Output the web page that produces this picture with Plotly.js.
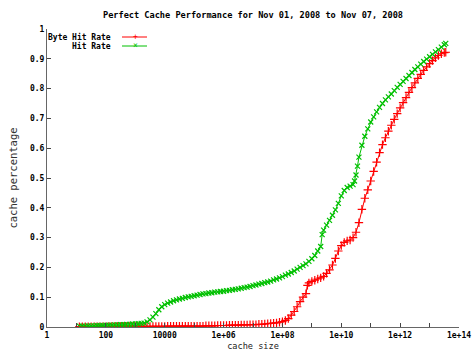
<!DOCTYPE html>
<html>
<head>
<meta charset="utf-8">
<script src="https://cdn.plot.ly/plotly-3.0.1.min.js"></script>
<style>html,body{margin:0;padding:0;background:#fff;}#chart{width:474px;height:355px;}</style>
</head>
<body>
<div id="chart"></div>
<script>
// Cache sizes as log10 exponents
const hitSizeExp = [
  1.1,1.2,1.3,1.4,1.5,1.6,1.7,1.8,1.9,2.0,
  2.1,2.2,2.3,2.4,2.5,2.6,2.7,2.8,2.9,3.0,
  3.1,3.2,3.3,3.4,3.5,3.6,3.7,3.8,3.9,4.0,
  4.1,4.2,4.3,4.4,4.5,4.6,4.7,4.8,4.9,5.0,
  5.1,5.2,5.3,5.4,5.5,5.6,5.7,5.8,5.9,6.0,
  6.1,6.2,6.3,6.4,6.5,6.6,6.7,6.8,6.9,7.0,
  7.1,7.2,7.3,7.4,7.5,7.6,7.7,7.8,7.9,8.0,
  8.1,8.2,8.3,8.4,8.5,8.6,8.7,8.8,8.9,9.0,
  9.1,9.2,9.3,9.35,9.4,9.5,9.6,9.7,9.8,9.9,
  10.0,10.1,10.2,10.3,10.4,10.45,10.5,10.55,10.6,10.7,
  10.8,10.9,11.0,11.1,11.2,11.3,11.4,11.5,11.6,11.7,
  11.8,11.9,12.0,12.1,12.2,12.3,12.4,12.5,12.6,12.7,
  12.8,12.9,13.0,13.1,13.2,13.3,13.4,13.5,13.55];
const hitRate = [
  0.003,0.003,0.003,0.004,0.004,0.004,0.005,0.005,0.005,0.006,
  0.006,0.006,0.007,0.007,0.008,0.008,0.009,0.009,0.010,0.010,
  0.011,0.012,0.013,0.017,0.024,0.033,0.045,0.058,0.068,0.075,
  0.080,0.084,0.088,0.091,0.094,0.096,0.099,0.101,0.103,0.105,
  0.107,0.109,0.111,0.112,0.114,0.115,0.117,0.118,0.119,0.120,
  0.122,0.123,0.125,0.126,0.128,0.130,0.132,0.134,0.136,0.139,
  0.141,0.144,0.146,0.149,0.151,0.154,0.158,0.161,0.165,0.169,
  0.174,0.178,0.183,0.188,0.194,0.200,0.206,0.212,0.220,0.229,
  0.240,0.255,0.270,0.310,0.325,0.342,0.358,0.375,0.393,0.415,
  0.440,0.458,0.468,0.473,0.478,0.490,0.510,0.540,0.570,0.610,
  0.640,0.665,0.688,0.705,0.722,0.737,0.750,0.762,0.772,0.782,
  0.793,0.804,0.814,0.824,0.834,0.844,0.854,0.864,0.873,0.882,
  0.891,0.899,0.907,0.915,0.923,0.931,0.939,0.947,0.952];

const byteSizeExp = [
  1.1,1.2,1.3,1.4,1.5,1.6,1.7,1.8,1.9,2.0,
  2.1,2.2,2.3,2.4,2.5,2.6,2.7,2.8,2.9,3.0,
  3.1,3.2,3.3,3.4,3.5,3.6,3.7,3.8,3.9,4.0,
  4.1,4.2,4.3,4.4,4.5,4.6,4.7,4.8,4.9,5.0,
  5.1,5.2,5.3,5.4,5.5,5.6,5.7,5.8,5.9,6.0,
  6.1,6.2,6.3,6.4,6.5,6.6,6.7,6.8,6.9,7.0,
  7.1,7.2,7.3,7.4,7.5,7.6,7.7,7.8,7.9,8.0,
  8.1,8.2,8.3,8.4,8.5,8.6,8.7,8.8,8.85,8.9,9.0,
  9.1,9.2,9.3,9.4,9.5,9.6,9.7,9.8,9.9,10.0,
  10.1,10.2,10.3,10.4,10.5,10.6,10.7,10.8,10.9,11.0,
  11.1,11.2,11.3,11.4,11.5,11.6,11.7,11.8,11.9,12.0,
  12.1,12.2,12.3,12.4,12.5,12.6,12.7,12.8,12.9,13.0,
  13.1,13.2,13.3,13.4,13.5,13.55];
const byteHitRate = [
  0.001,0.001,0.001,0.001,0.001,0.001,0.001,0.001,0.001,0.001,
  0.002,0.002,0.002,0.002,0.002,0.002,0.002,0.002,0.002,0.002,
  0.002,0.002,0.002,0.002,0.002,0.002,0.002,0.002,0.002,0.002,
  0.003,0.003,0.003,0.003,0.003,0.003,0.003,0.003,0.003,0.003,
  0.003,0.003,0.003,0.004,0.004,0.004,0.004,0.005,0.005,0.005,
  0.005,0.006,0.006,0.006,0.006,0.007,0.007,0.007,0.008,0.008,
  0.008,0.009,0.009,0.010,0.011,0.012,0.013,0.014,0.016,0.018,
  0.022,0.028,0.040,0.052,0.068,0.085,0.100,0.112,0.140,0.148,0.153,
  0.157,0.161,0.165,0.170,0.180,0.192,0.208,0.230,0.255,0.273,
  0.284,0.289,0.292,0.300,0.318,0.350,0.395,0.432,0.460,0.490,
  0.522,0.553,0.585,0.612,0.635,0.657,0.677,0.697,0.716,0.735,
  0.753,0.770,0.787,0.803,0.819,0.834,0.848,0.861,0.873,0.884,
  0.894,0.903,0.911,0.917,0.921,0.922];

const tickExp = [0,1,2,3,4,5,6,7,8,9,10,11,12,13,14];
const tickLabels = ["1","","100","","10000","","1e+06","","1e+08","","1e+10","","1e+12","","1e+14"];
const seriesNames = ["Byte Hit Rate","Hit Rate"];
const titleText = "Perfect Cache Performance for Nov 01, 2008 to Nov 07, 2008";

const RED = "#ff0000", GREEN = "#00c000";
const mono = "DejaVu Sans Mono";

const traces = [
  {x: byteSizeExp.map(e => Math.pow(10, e)), y: byteHitRate, name: seriesNames[0], mode: "lines+markers",
   line: {color: RED, width: 1}, marker: {symbol: "cross-thin-open", size: 6, line: {color: RED, width: 1.2}}},
  {x: hitSizeExp.map(e => Math.pow(10, e)), y: hitRate, name: seriesNames[1], mode: "lines+markers",
   line: {color: GREEN, width: 1}, marker: {symbol: "x-thin-open", size: 5, line: {color: GREEN, width: 1.2}}}
];

const L = 47, R = 459, T = 29, B = 327;
const px = v => (v - L) / (R - L);
const py = v => (B - v) / (B - T);

const layout = {
  width: 474, height: 355,
  margin: {l: L, r: 474 - R, t: T, b: 355 - B},
  paper_bgcolor: "#fff", plot_bgcolor: "#fff",
  showlegend: false,
  title: {text: titleText, font: {family: mono, size: 8.6, color: "#000", weight: "bold"},
          x: 0.5, xref: "paper", y: 1 - 15/355, yref: "container", yanchor: "middle"},
  xaxis: {type: "log", range: [0, 14], tickvals: tickExp.map(e => Math.pow(10, e)), ticktext: tickLabels,
          automargin: false,
          ticks: "inside", ticklen: 4, tickcolor: "#444", showgrid: false, zeroline: false,
          showline: true, linecolor: "#666", linewidth: 1,
          tickfont: {family: mono, size: 8, color: "#000", weight: "bold"},
          title: {text: "cache size", font: {family: mono, size: 8.6, color: "#222"}, standoff: 4}},
  yaxis: {range: [0, 1], dtick: 0.1, tick0: 0, ticks: "inside", ticklen: 4, tickcolor: "#444",
          automargin: false,
          showgrid: false, zeroline: false, showline: true, linecolor: "#666", linewidth: 1,
          tickfont: {family: mono, size: 8, color: "#000", weight: "bold"},
          title: {text: "cache percentage", font: {family: mono, size: 10.5, color: "#333"}, standoff: 10}},
  shapes: [
    {type: "line", xref: "paper", yref: "paper", x0: px(122), x1: px(147), y0: py(37), y1: py(37), line: {color: RED, width: 1}},
    {type: "line", xref: "paper", yref: "paper", x0: px(122), x1: px(147), y0: py(46), y1: py(46), line: {color: GREEN, width: 1}}
  ],
  annotations: [
    {text: seriesNames[0], xref: "paper", yref: "paper", x: px(113), y: py(37), xanchor: "right", yanchor: "middle",
     showarrow: false, font: {family: mono, size: 8, color: "#000", weight: "bold"}},
    {text: seriesNames[1], xref: "paper", yref: "paper", x: px(113), y: py(46), xanchor: "right", yanchor: "middle",
     showarrow: false, font: {family: mono, size: 8, color: "#000", weight: "bold"}},
    {text: "+", xref: "paper", yref: "paper", x: px(135), y: py(37), xanchor: "center", yanchor: "middle",
     showarrow: false, font: {family: mono, size: 8, color: RED}},
    {text: "×", xref: "paper", yref: "paper", x: px(135), y: py(46), xanchor: "center", yanchor: "middle",
     showarrow: false, font: {family: mono, size: 8, color: GREEN}}
  ]
};

Plotly.newPlot("chart", traces, layout, {displayModeBar: false, staticPlot: true});
</script>
</body>
</html>
